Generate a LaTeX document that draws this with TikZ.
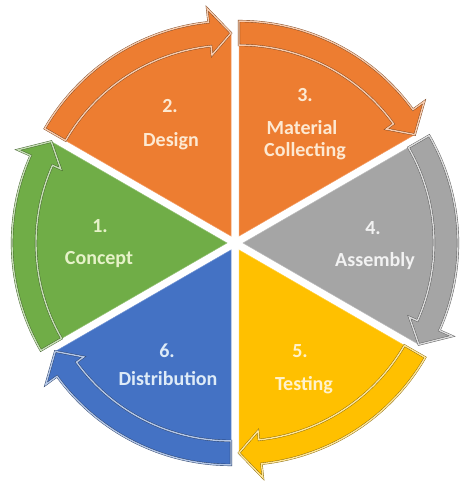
\documentclass[tikz,border=0pt]{standalone}
\usepackage{fontspec}
\setmainfont{Carlito}
\definecolor{cOrange}{HTML}{ED7D31}
\definecolor{cGray}{HTML}{A5A5A5}
\definecolor{cGold}{HTML}{FFC000}
\definecolor{cBlue}{HTML}{4472C4}
\definecolor{cGreen}{HTML}{70AD47}
\definecolor{tOrange}{HTML}{FDE9D2}
\definecolor{tGray}{HTML}{F2F2F2}
\definecolor{tGold}{HTML}{FFF2CC}
\definecolor{tBlue}{HTML}{DEEBF7}
\definecolor{tGreen}{HTML}{E6F2C8}
\begin{document}
\begin{tikzpicture}[x=1pt,y=1pt,
  wedge/.style={fill=#1, draw=#1!75!white, line width=0.5pt},
  band/.style={fill=#1, draw=#1!50!black, double=#1!40!white, double distance=1.4pt, line width=0.4pt, line join=miter},
  lbl/.style={font=\bfseries\fontsize{20}{24}\selectfont, text=#1, inner sep=0pt, anchor=base}]
\useasboundingbox (-235,-246) rectangle (239,243);
\foreach \a/\b/\c in {150/90/cOrange, 90/30/cOrange, 30/-30/cGray, -30/-90/cGold, -90/-150/cBlue, 210/150/cGreen}{
  \pgfmathsetmacro{\m}{(\a+\b)/2}
  \pgfmathsetmacro{\h}{\b+6}
  \begin{scope}[shift={(\m:8)}]
    \path[wedge=\c] (0,0) -- (\a:203) arc[start angle=\a, end angle=\b, radius=203] -- cycle;
    \path[band=\c] (\a:215) arc[start angle=\a, end angle=\h, radius=215] -- (\h:229) -- (\b:203) -- (\h:182) -- (\h:191) arc[start angle=\h, end angle=\a, radius=191] -- cycle;
  \end{scope}
}
\node[lbl=tOrange] (n2) at (-65,130) {2.};
\node[lbl=tOrange] (t2) at (-64,96) {Design};
\node[lbl=tOrange] (n3) at (70,141) {3.};
\node[lbl=tOrange] (t3a) at (67,108) {Material};
\node[lbl=tOrange] (t3b) at (70,86) {Collecting};
\node[lbl=tGray] (n4) at (138,8) {4.};
\node[lbl=tGray] (t4) at (140,-24) {Assembly};
\node[lbl=tGold] (n5) at (65,-114) {5.};
\node[lbl=tGold] (t5) at (69,-147) {Testing};
\node[lbl=tBlue] (n6) at (-68,-114) {6.};
\node[lbl=tBlue] (t6) at (-67,-142) {Distribution};
\node[lbl=tGreen] (n1) at (-135,10) {1.};
\node[lbl=tGreen] (t1) at (-136,-22) {Concept};
\end{tikzpicture}
\end{document}
